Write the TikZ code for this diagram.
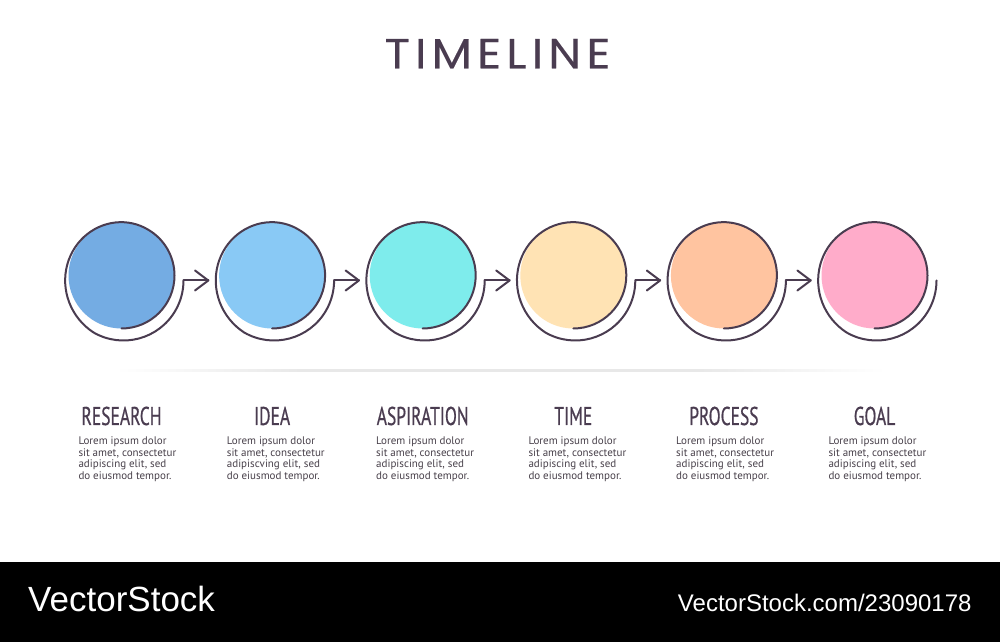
\documentclass[tikz,border=0pt]{standalone}
\usepackage{fontspec}
\setmainfont{PT Sans}
\newfontfamily\titlefont[LetterSpace=12,FakeStretch=1.12,FakeBold=0.3]{Poppins}
\newfontfamily\headfont[FakeStretch=0.68,FakeBold=0.6]{PT Sans}
\newfontfamily\footfont{Liberation Sans}
\usetikzlibrary{calc}
\definecolor{dk}{RGB}{74,60,80}
\definecolor{bodytxt}{RGB}{72,64,74}
\definecolor{c1}{RGB}{116,172,227}
\definecolor{c2}{RGB}{137,201,245}
\definecolor{c3}{RGB}{126,236,236}
\definecolor{c4}{RGB}{255,227,180}
\definecolor{c5}{RGB}{255,196,160}
\definecolor{c6}{RGB}{255,172,202}
\begin{document}
\begin{tikzpicture}[x=1pt,y=1pt,
  dkline/.style={draw=dk, line width=2pt, line cap=round, line join=round},
  fillcirc/.style={circle, minimum size=106pt, inner sep=0pt, draw=none},
  headtxt/.style={anchor=base, inner sep=0pt, text=dk, font=\headfont\fontsize{25.7}{25.7}\selectfont},
  bodynode/.style={anchor=north west, align=left, inner sep=0pt, text=bodytxt, font=\fontsize{11}{11.7}\selectfont}]
\useasboundingbox (0,0) rectangle (1000,642);
\fill[white] (0,0) rectangle (1000,642);
\fill[black] (0,0) rectangle (1000,80.3);

% title
\node[anchor=base, inner sep=0pt, text=dk, font=\titlefont\fontsize{42}{42}\selectfont] (title) at (497.5,573.7) {TIMELINE};

% faint shadow line
\shade[left color=white, right color=black!9] (115,270) rectangle (300,272.6);
\fill[black!9] (300,270) rectangle (700,272.6);
\shade[left color=black!9, right color=white] (700,270) rectangle (885,272.6);

% circles, spirals, labels
\foreach \i/\col/\lab/\bx/\third in {1/c1/RESEARCH/78.3/adipiscing, 2/c2/IDEA/226.7/adipiscving, 3/c3/ASPIRATION/376/adipiscing, 4/c4/TIME/528.3/adipiscing, 5/c5/PROCESS/676/adipiscing, 6/c6/GOAL/828.3/adipiscing}{
  \pgfmathsetmacro\cx{121.5+150.6*(\i-1)}
  \node[fillcirc, fill=\col] (c\i) at (\cx,366.5) {};
  \coordinate (e\i) at ($(c\i.center)+(62,-5)$);
  \draw[dkline] ($(c\i.center)+(0,-53)$) arc[start angle=-90, end angle=60, radius=53]
    -- plot[domain=60:240, samples=40] ({\cx + (1-(\x-60)/180)*53*cos(\x) + ((\x-60)/180)*(2+60*cos(\x))}, {366.5 + (1-(\x-60)/180)*53*sin(\x) + ((\x-60)/180)*(-5+60*sin(\x))})
    arc[start angle=240, end angle=360, radius=60];
  \node[headtxt] (h\i) at (\cx,217) {\lab};
  \node[bodynode] (b\i) at (\bx,205.5) {Lorem ipsum dolor\\sit amet, consectetur\\\third\ elit, sed\\do eiusmod tempor.};
}

% connectors with chevrons
\foreach \i [evaluate=\i as \j using int(\i+1)] in {1,...,5}{
  \coordinate (t\i) at ($(c\j.center)+(-63.8,-5)$);
  \draw[dkline] (e\i) -- (t\i);
  \draw[dkline] ($(t\i)+(-13.3,10)$) -- (t\i) -- ($(t\i)+(-13.3,-10)$);
}

% footer
\node[anchor=base west, inner sep=0pt, text=white, font=\footfont\fontsize{35}{35}\selectfont] (brand) at (28,30.3) {VectorStock};
\node[anchor=base east, inner sep=0pt, text=white, font=\footfont\fontsize{24}{24}\selectfont] (url) at (971.7,30.3) {VectorStock.com/23090178};
\end{tikzpicture}
\end{document}
